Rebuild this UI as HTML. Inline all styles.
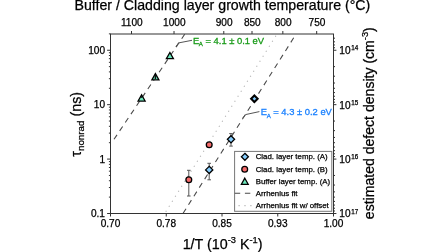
<!DOCTYPE html><html><head><meta charset="utf-8"><style>html,body{margin:0;padding:0;background:#fff}svg{display:block}</style></head><body><svg width="448" height="252" viewBox="0 0 448 252" font-family="'Liberation Sans', Arial, sans-serif">
<rect width="448" height="252" fill="#fff"/>
<clipPath id="c"><rect x="110.5" y="34.0" width="223.0" height="179.5"/></clipPath>
<g clip-path="url(#c)" fill="none">
<line x1="114" y1="139.3" x2="184.9" y2="34" stroke="#4a4a4a" stroke-width="1.1" stroke-dasharray="5.4 4.7"/>
<line x1="296.1" y1="34" x2="183.0" y2="213.5" stroke="#4a4a4a" stroke-width="1.1" stroke-dasharray="5.4 4.7" stroke-dashoffset="-4.5"/>
<line x1="164.7" y1="213.5" x2="277" y2="34" stroke="#b4b4b4" stroke-width="1.1" stroke-dasharray="1.2 4.7" stroke-dashoffset="-2"/>
</g>
<rect x="110.5" y="34.0" width="223.0" height="179.5" fill="none" stroke="#333" stroke-width="1"/>
<path d="M131.50 34.0v-3 M174.02 34.0v-3 M223.79 34.0v-3 M252.00 34.0v-3 M282.83 34.0v-3 M316.68 34.0v-3 M110.50 213.5v3 M166.25 213.5v3 M222.00 213.5v3 M277.75 213.5v3 M333.50 213.5v3 M110.5 213.50h-3.4 M110.5 197.12h-1.6 M110.5 187.54h-1.6 M110.5 180.74h-1.6 M110.5 175.46h-1.6 M110.5 171.16h-1.6 M110.5 167.51h-1.6 M110.5 164.36h-1.6 M110.5 161.57h-1.6 M110.5 159.08h-3.4 M110.5 142.70h-1.6 M110.5 133.12h-1.6 M110.5 126.32h-1.6 M110.5 121.05h-1.6 M110.5 116.74h-1.6 M110.5 113.10h-1.6 M110.5 109.94h-1.6 M110.5 107.16h-1.6 M110.5 104.67h-3.4 M110.5 88.29h-1.6 M110.5 78.70h-1.6 M110.5 71.90h-1.6 M110.5 66.63h-1.6 M110.5 62.32h-1.6 M110.5 58.68h-1.6 M110.5 55.52h-1.6 M110.5 52.74h-1.6 M110.5 50.25h-3.4 M110.5 33.87h-1.6 M333.5 38.18h1.5 M333.5 41.82h1.5 M333.5 44.98h1.5 M333.5 47.76h1.5 M333.5 50.25h2.9 M333.5 66.63h1.5 M333.5 76.21h1.5 M333.5 83.01h1.5 M333.5 88.29h1.5 M333.5 92.59h1.5 M333.5 96.24h1.5 M333.5 99.39h1.5 M333.5 102.18h1.5 M333.5 104.67h2.9 M333.5 121.05h1.5 M333.5 130.63h1.5 M333.5 137.43h1.5 M333.5 142.70h1.5 M333.5 147.01h1.5 M333.5 150.65h1.5 M333.5 153.81h1.5 M333.5 156.59h1.5 M333.5 159.08h2.9 M333.5 175.46h1.5 M333.5 185.05h1.5 M333.5 191.85h1.5 M333.5 197.12h1.5 M333.5 201.43h1.5 M333.5 205.07h1.5 M333.5 208.23h1.5 M333.5 211.01h1.5 M333.5 213.50h2.9" stroke="#333" stroke-width="1" fill="none"/>
<g font-size="10.1" fill="#000" stroke="#000" stroke-width="0.25">
<text x="131.80" y="26.1" text-anchor="middle">1100</text>
<text x="174.32" y="26.1" text-anchor="middle">1000</text>
<text x="224.09" y="26.1" text-anchor="middle">900</text>
<text x="252.30" y="26.1" text-anchor="middle">850</text>
<text x="283.13" y="26.1" text-anchor="middle">800</text>
<text x="316.98" y="26.1" text-anchor="middle">750</text>
<text x="110.50" y="227.4" text-anchor="middle">0.70</text>
<text x="166.25" y="227.4" text-anchor="middle">0.78</text>
<text x="222.00" y="227.4" text-anchor="middle">0.85</text>
<text x="277.75" y="227.4" text-anchor="middle">0.93</text>
<text x="333.50" y="227.4" text-anchor="middle">1.00</text>
<text x="105" y="54.05" text-anchor="end">100</text>
<text x="105" y="108.47" text-anchor="end">10</text>
<text x="105" y="162.88" text-anchor="end">1</text>
<text x="105" y="217.30" text-anchor="end">0.1</text>
<text x="339.3" y="54.15">10<tspan font-size="6.3" dx="0.6" dy="-3.9">14</tspan></text>
<text x="339.3" y="108.57">10<tspan font-size="6.3" dx="0.6" dy="-3.9">15</tspan></text>
<text x="339.3" y="162.98">10<tspan font-size="6.3" dx="0.6" dy="-3.9">16</tspan></text>
<text x="339.3" y="217.40">10<tspan font-size="6.3" dx="0.6" dy="-3.9">17</tspan></text>
</g>
<text x="222.4" y="10.3" font-size="14.17" text-anchor="middle" fill="#000" stroke="#000" stroke-width="0.25">Buffer / Cladding layer growth temperature (°C)</text>
<text x="222.6" y="248.5" font-size="14.3" text-anchor="middle" fill="#000" stroke="#000" stroke-width="0.25">1/T (10<tspan font-size="9.3" dy="-5.5">-3</tspan><tspan dy="5.5"> K</tspan><tspan font-size="9.3" dy="-5.5">-1</tspan><tspan dy="5.5">)</tspan></text>
<text transform="translate(81.3 124.3) rotate(-90)" font-size="14.3" text-anchor="middle" fill="#000" stroke="#000" stroke-width="0.25">τ<tspan font-size="9.8" dy="3">nonrad</tspan><tspan dy="-3"> (ns)</tspan></text>
<text transform="translate(374.3 123.2) rotate(-90)" font-size="14.07" text-anchor="middle" fill="#000" stroke="#000" stroke-width="0.25">estimated defect density (cm<tspan font-size="9.3" dy="-6.3">-3</tspan><tspan dy="6.3">)</tspan></text>
<path d="M188.8 170.3V196M187.0 170.3h3.6M187.0 196h3.6" stroke="#555" stroke-width="1" fill="none"/>
<path d="M209.2 163.3V179.8M207.39999999999998 163.3h3.6M207.39999999999998 179.8h3.6" stroke="#555" stroke-width="1" fill="none"/>
<path d="M231 133.6V146.1M229.2 133.6h3.6M229.2 146.1h3.6" stroke="#555" stroke-width="1" fill="none"/>
<path d="M141.6 94.85L145.1 101.05H138.1Z" fill="#6ee8bc" stroke="#000" stroke-width="1.3" stroke-linejoin="miter"/>
<path d="M141.6 96.24999999999999v1.6" stroke="#111" stroke-width="1.4"/>
<path d="M155.4 73.64999999999999L158.9 79.85H151.9Z" fill="#6ee8bc" stroke="#000" stroke-width="1.3" stroke-linejoin="miter"/>
<path d="M155.4 75.04999999999998v4" stroke="#111" stroke-width="1.4"/>
<path d="M169.9 52.45L173.4 58.65H166.4Z" fill="#6ee8bc" stroke="#000" stroke-width="1.3" stroke-linejoin="miter"/>
<path d="M209.2 166.3L212.79999999999998 169.9L209.2 173.5L205.6 169.9Z" fill="#86ccfc" stroke="#000" stroke-width="1.3"/>
<path d="M231 135.70000000000002L234.6 139.3L231 142.9L227.4 139.3Z" fill="#86ccfc" stroke="#000" stroke-width="1.3"/>
<path d="M254.4 95.45L257.7 98.75L254.4 102.05L251.1 98.75Z" fill="#86ccfc" stroke="#000" stroke-width="2.0"/>
<circle cx="188.8" cy="179.8" r="2.9" fill="#f46a6a" stroke="#000" stroke-width="1.3"/>
<circle cx="209.2" cy="144.8" r="2.9" fill="#f46a6a" stroke="#000" stroke-width="1.3"/>
<text x="192.9" y="43.5" font-size="9.4" fill="#189a18" stroke="#189a18" stroke-width="0.3">E<tspan font-size="6.0" dx="-0.3" dy="2.7">A</tspan><tspan dy="-2.7"> = 4.1 ± 0.1 eV</tspan></text>
<text x="260.7" y="114.8" font-size="9.4" fill="#1a80ff" stroke="#1a80ff" stroke-width="0.3">E<tspan font-size="6.0" dx="-0.3" dy="2.7">A</tspan><tspan dy="-2.7"> = 4.3 ± 0.2 eV</tspan></text>
<path d="M176 46.4L178.7 42.9L192 40.3" stroke="#555" fill="none"/>
<path d="M242.8 117.9L245.5 114.6L259.4 111.6" stroke="#555" fill="none"/>
<rect x="234.6" y="151.4" width="97.2" height="59.9" fill="#fff" stroke="#777" stroke-width="1"/>
<path d="M244.9 153.3L248.4 156.8L244.9 160.3L241.4 156.8Z" fill="#86ccfc" stroke="#000" stroke-width="1.3"/>
<circle cx="244.7" cy="169.2" r="2.9" fill="#f46a6a" stroke="#000" stroke-width="1.3"/>
<path d="M244.8 178.20000000000002L248.20000000000002 184.3H241.4Z" fill="#6ee8bc" stroke="#000" stroke-width="1.3" stroke-linejoin="miter"/>
<line x1="234.8" y1="193.2" x2="251.5" y2="193.2" stroke="#4a4a4a" stroke-width="1.1" stroke-dasharray="5.4 4.7"/>
<line x1="236.5" y1="205.6" x2="251.5" y2="205.6" stroke="#b4b4b4" stroke-width="1.1" stroke-dasharray="1.2 4.7" stroke-dashoffset="-2"/>
<g font-size="7.85" fill="#000" stroke="#000" stroke-width="0.25">
<text x="255.7" y="159.30">Clad. layer temp. (A)</text>
<text x="255.7" y="171.50">Clad. layer temp. (B)</text>
<text x="255.7" y="183.60">Buffer layer temp. (A)</text>
<text x="255.7" y="195.70">Arrhenius fit</text>
<text x="255.7" y="208.10">Arrhenius fit w/ offset</text>
</g>
</svg></body></html>
